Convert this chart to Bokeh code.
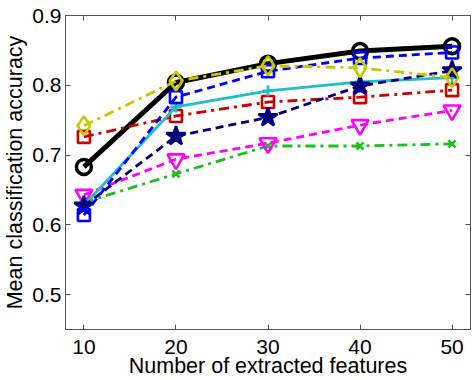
from bokeh.plotting import figure
from bokeh.models import LinearAxis, FixedTicker, Range1d
from bokeh.embed import file_html
from bokeh.resources import INLINE

features = [10, 20, 30, 40, 50]
x_ticks = [10, 20, 30, 40, 50]
y_ticks = [0.5, 0.6, 0.7, 0.8, 0.9]

black_circle = [0.683, 0.804, 0.831, 0.849, 0.856]
yellow_diamond = [0.742, 0.806, 0.828, 0.825, 0.811]
blue_square = [0.614, 0.783, 0.820, 0.839, 0.847]
cyan_plus = [0.628, 0.769, 0.792, 0.805, 0.811]
red_square = [0.726, 0.756, 0.776, 0.783, 0.793]
navy_star = [0.627, 0.727, 0.754, 0.799, 0.821]
magenta_tri = [0.643, 0.694, 0.717, 0.743, 0.764]
green_x = [0.632, 0.673, 0.713, 0.713, 0.716]

FONT = "Liberation Sans"

p = figure(width=474, height=380, output_backend="svg", toolbar_location=None,
           x_range=Range1d(8, 52), y_range=Range1d(0.45, 0.9),
           min_border_left=64, min_border_right=4, min_border_top=15, min_border_bottom=50)
p.grid.visible = False
p.outline_line_color = "#555555"
p.outline_line_width = 1
p.background_fill_color = "white"
p.border_fill_color = "white"

for ax in (p.xaxis[0], p.yaxis[0]):
    ax.major_tick_in = 5
    ax.major_tick_out = 0
    ax.minor_tick_line_color = None
    ax.axis_line_color = "#555555"
    ax.major_tick_line_color = "#555555"
    ax.major_label_text_font = FONT
    ax.major_label_text_font_size = "21px"
    ax.major_label_text_color = "black"
    ax.axis_label_text_font = FONT
    ax.axis_label_text_font_size = "21.5px"
    ax.axis_label_text_font_style = "normal"
    ax.axis_label_text_color = "black"

p.xaxis[0].ticker = FixedTicker(ticks=x_ticks)
p.yaxis[0].ticker = FixedTicker(ticks=y_ticks)
p.xaxis[0].axis_label = "Number of extracted features"
p.yaxis[0].axis_label = "Mean classification accuracy"
p.xaxis[0].major_label_standoff = 10
p.xaxis[0].axis_label_standoff = -3
p.yaxis[0].major_label_standoff = 4
p.yaxis[0].axis_label_standoff = 2

for loc, tk in (("above", x_ticks), ("right", y_ticks)):
    a = LinearAxis(ticker=FixedTicker(ticks=tk), major_tick_in=5, major_tick_out=0,
                   minor_tick_line_color=None, axis_line_color="#555555",
                   major_tick_line_color="#555555",
                   major_label_overrides={t: "" for t in tk},
                   major_label_text_font_size="10px",
                   major_label_standoff=0)
    p.add_layout(a, loc)

LW = 2.8
# black circle solid thick
p.line(features, black_circle, line_color="black", line_width=5)
p.scatter(features, black_circle, marker="circle", size=15, line_color="black",
          line_width=3.5, fill_color="white", fill_alpha=0.0)

series = [
    (green_x, "#1cbf1c", "dashdot", "x", 10, 0.0),
    (magenta_tri, "#ff00ff", "dashed", "inverted_triangle", 17, 0.0),
    (red_square, "#cc0000", "dashdot", "square", 12, 0.0),
    (cyan_plus, "#1fbfc8", "solid", "cross", 11, 0.0),
    (navy_star, "#00007f", "dashed", "star", 20, 1.0),
    (blue_square, "#0000ff", "dashed", "square", 12, 0.0),
    (yellow_diamond, "#c8c800", "dashdot", "diamond", 19, 0.0),
]
dashes = {"solid": "solid", "dashed": "8 5", "dashdot": "10 5 3 5"}
for ys, col, dash, mk, sz, fa in series:
    p.line(features, ys, line_color=col, line_width=LW, line_dash=dashes[dash])
    p.scatter(features, ys, marker=mk, size=sz, line_color=col, line_width=2.6,
              fill_color=col, fill_alpha=fa)

open("out.html", "w").write(file_html(p, INLINE))
